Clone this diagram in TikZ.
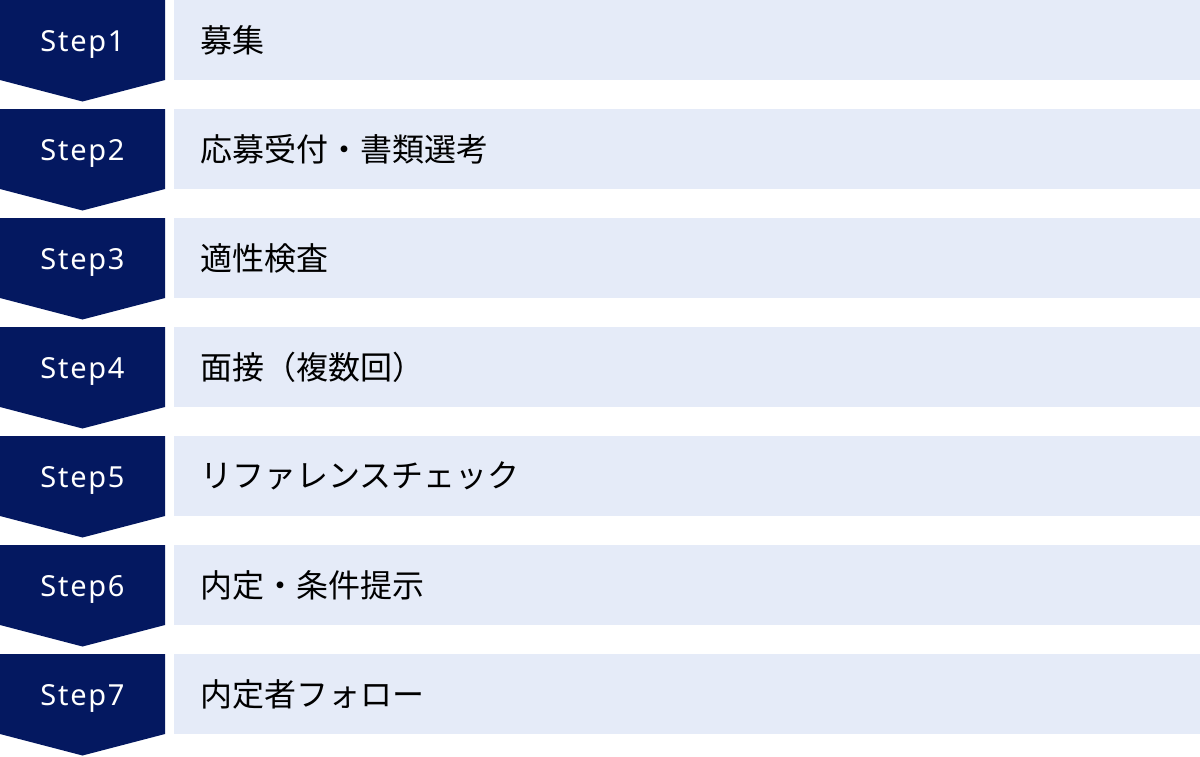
\documentclass[tikz,border=0pt]{standalone}
\usepackage{fontspec}
\setmainfont{Noto Sans CJK JP}
\newfontfamily\jp{Noto Sans CJK JP}
\newfontfamily\stepfont[LetterSpace=6]{Noto Sans}
\definecolor{navy}{RGB}{4,24,96}
\definecolor{pale}{RGB}{229,235,248}
\tikzset{
  badge/.style={fill=navy},
  steptext/.style={text=white, font=\stepfont\fontsize{29}{32}\selectfont, anchor=base, inner sep=0pt},
  barbox/.style={fill=pale, draw=none, minimum width=1026pt, minimum height=80pt, anchor=north west, inner sep=0pt},
  bartext/.style={text=black, font=\jp\fontsize{32}{36}\selectfont, anchor=west, inner sep=0pt}
}
\begin{document}
\begin{tikzpicture}[x=1pt,y=-1pt]
\useasboundingbox (0,0) rectangle (1200,756);
\foreach \i/\t in {1/募集,2/応募受付・書類選考,3/適性検査,4/面接（複数回）,5/リファレンスチェック,6/内定・条件提示,7/内定者フォロー}{
  \pgfmathsetmacro\yy{(\i-1)*109}
  \coordinate (tl\i) at (0,\yy);
  \fill[badge] (tl\i) -- ++(165,0) -- ++(0,80) -- ++(-82.5,21.5) -- ++(-82.5,-21.5) -- cycle;
  \node[steptext] (step\i) at (82.5,\yy+51.5) {Step\i};
  \node[barbox] (box\i) at (174,\yy) {};
  \node[bartext] (label\i) at (200,\yy+40) {\t};
}
\end{tikzpicture}
\end{document}
